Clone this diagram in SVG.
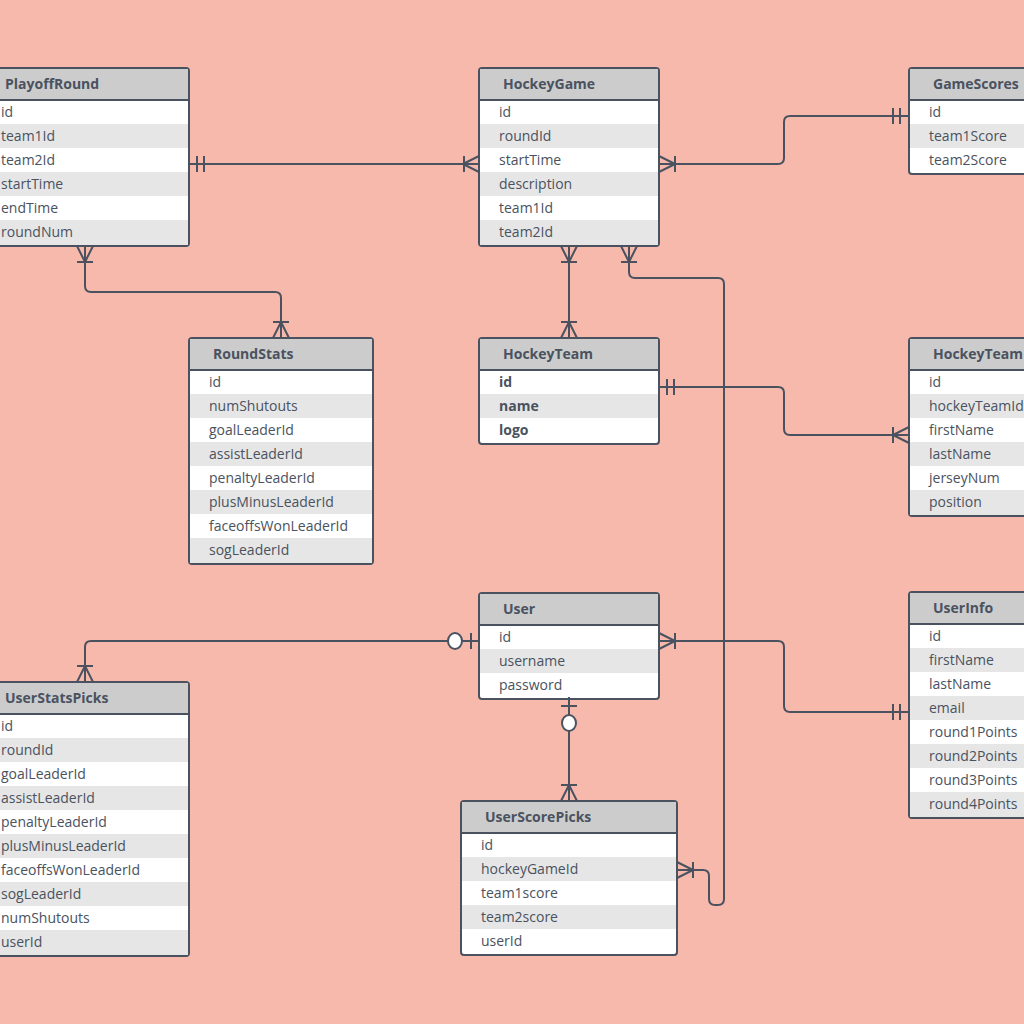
<svg xmlns="http://www.w3.org/2000/svg" width="1024" height="1024" viewBox="0 0 1024 1024">
<style>
.b{fill:#fff;stroke:#4a5260;stroke-width:2}
.h{fill:#cccccc}
.s{fill:#e6e6e6}
.ln{stroke:#4a5260;stroke-width:2}
.t{font-family:"Open Sans","DejaVu Sans",sans-serif;font-size:14px;fill:#4a5260}
.tb{font-family:"Open Sans","DejaVu Sans",sans-serif;font-size:14px;font-weight:bold;fill:#4a5260}
.c{fill:none;stroke:#4a5260;stroke-width:2}
.o{fill:#fff;stroke:#4a5260;stroke-width:2}
</style>
<rect width="1024" height="1024" fill="#f8b9ad"/>

<g id="PlayoffRound">
<rect class="b" x="-10" y="68" width="199" height="178" rx="3"/>
<rect class="h" x="-9" y="69" width="197" height="31"/>
<rect class="s" x="-9" y="124" width="197" height="24"/><rect class="s" x="-9" y="172" width="197" height="24"/><rect class="s" x="-9" y="220" width="197" height="25"/>
<line class="ln" x1="-10" y1="100" x2="189" y2="100"/>
<text class="tb" x="5" y="89">PlayoffRound</text>
<text class="t" x="1" y="117">id</text><text class="t" x="1" y="141">team1Id</text><text class="t" x="1" y="165">team2Id</text><text class="t" x="1" y="189">startTime</text><text class="t" x="1" y="213">endTime</text><text class="t" x="1" y="237">roundNum</text>
</g>

<g id="HockeyGame">
<rect class="b" x="479" y="68" width="180" height="178" rx="3"/>
<rect class="h" x="480" y="69" width="178" height="31"/>
<rect class="s" x="480" y="124" width="178" height="24"/><rect class="s" x="480" y="172" width="178" height="24"/><rect class="s" x="480" y="220" width="178" height="25"/>
<line class="ln" x1="479" y1="100" x2="659" y2="100"/>
<text class="tb" x="503" y="89">HockeyGame</text>
<text class="t" x="499" y="117">id</text><text class="t" x="499" y="141">roundId</text><text class="t" x="499" y="165">startTime</text><text class="t" x="499" y="189">description</text><text class="t" x="499" y="213">team1Id</text><text class="t" x="499" y="237">team2Id</text>
</g>

<g id="GameScores">
<rect class="b" x="909" y="68" width="130" height="106" rx="3"/>
<rect class="h" x="910" y="69" width="128" height="31"/>
<rect class="s" x="910" y="124" width="128" height="24"/>
<line class="ln" x1="909" y1="100" x2="1039" y2="100"/>
<text class="tb" x="933" y="89">GameScores</text>
<text class="t" x="929" y="117">id</text><text class="t" x="929" y="141">team1Score</text><text class="t" x="929" y="165">team2Score</text>
</g>

<g id="RoundStats">
<rect class="b" x="189" y="338" width="184" height="226" rx="3"/>
<rect class="h" x="190" y="339" width="182" height="31"/>
<rect class="s" x="190" y="394" width="182" height="24"/><rect class="s" x="190" y="442" width="182" height="24"/><rect class="s" x="190" y="490" width="182" height="24"/><rect class="s" x="190" y="538" width="182" height="25"/>
<line class="ln" x1="189" y1="370" x2="373" y2="370"/>
<text class="tb" x="213" y="359">RoundStats</text>
<text class="t" x="209" y="387">id</text><text class="t" x="209" y="411">numShutouts</text><text class="t" x="209" y="435">goalLeaderId</text><text class="t" x="209" y="459">assistLeaderId</text><text class="t" x="209" y="483">penaltyLeaderId</text><text class="t" x="209" y="507">plusMinusLeaderId</text><text class="t" x="209" y="531">faceoffsWonLeaderId</text><text class="t" x="209" y="555">sogLeaderId</text>
</g>

<g id="HockeyTeam">
<rect class="b" x="479" y="338" width="180" height="106" rx="3"/>
<rect class="h" x="480" y="339" width="178" height="31"/>
<rect class="s" x="480" y="394" width="178" height="24"/>
<line class="ln" x1="479" y1="370" x2="659" y2="370"/>
<text class="tb" x="503" y="359">HockeyTeam</text>
<text class="tb" x="499" y="387">id</text><text class="tb" x="499" y="411">name</text><text class="tb" x="499" y="435">logo</text>
</g>

<g id="HockeyTeamPlayer">
<rect class="b" x="909" y="338" width="130" height="178" rx="3"/>
<rect class="h" x="910" y="339" width="128" height="31"/>
<rect class="s" x="910" y="394" width="128" height="24"/><rect class="s" x="910" y="442" width="128" height="24"/><rect class="s" x="910" y="490" width="128" height="25"/>
<line class="ln" x1="909" y1="370" x2="1039" y2="370"/>
<text class="tb" x="933" y="359">HockeyTeam</text>
<text class="t" x="929" y="387">id</text><text class="t" x="929" y="411">hockeyTeamId</text><text class="t" x="929" y="435">firstName</text><text class="t" x="929" y="459">lastName</text><text class="t" x="929" y="483">jerseyNum</text><text class="t" x="929" y="507">position</text>
</g>

<g id="User">
<rect class="b" x="479" y="593" width="180" height="106" rx="3"/>
<rect class="h" x="480" y="594" width="178" height="31"/>
<rect class="s" x="480" y="649" width="178" height="24"/>
<line class="ln" x1="479" y1="625" x2="659" y2="625"/>
<text class="tb" x="503" y="614">User</text>
<text class="t" x="499" y="642">id</text><text class="t" x="499" y="666">username</text><text class="t" x="499" y="690">password</text>
</g>

<g id="UserInfo">
<rect class="b" x="909" y="592" width="130" height="226" rx="3"/>
<rect class="h" x="910" y="593" width="128" height="31"/>
<rect class="s" x="910" y="648" width="128" height="24"/><rect class="s" x="910" y="696" width="128" height="24"/><rect class="s" x="910" y="744" width="128" height="24"/><rect class="s" x="910" y="792" width="128" height="25"/>
<line class="ln" x1="909" y1="624" x2="1039" y2="624"/>
<text class="tb" x="933" y="613">UserInfo</text>
<text class="t" x="929" y="641">id</text><text class="t" x="929" y="665">firstName</text><text class="t" x="929" y="689">lastName</text><text class="t" x="929" y="713">email</text><text class="t" x="929" y="737">round1Points</text><text class="t" x="929" y="761">round2Points</text><text class="t" x="929" y="785">round3Points</text><text class="t" x="929" y="809">round4Points</text>
</g>

<g id="UserStatsPicks">
<rect class="b" x="-10" y="682" width="199" height="274" rx="3"/>
<rect class="h" x="-9" y="683" width="197" height="31"/>
<rect class="s" x="-9" y="738" width="197" height="24"/><rect class="s" x="-9" y="786" width="197" height="24"/><rect class="s" x="-9" y="834" width="197" height="24"/><rect class="s" x="-9" y="882" width="197" height="24"/><rect class="s" x="-9" y="930" width="197" height="25"/>
<line class="ln" x1="-10" y1="714" x2="189" y2="714"/>
<text class="tb" x="5" y="703">UserStatsPicks</text>
<text class="t" x="1" y="731">id</text><text class="t" x="1" y="755">roundId</text><text class="t" x="1" y="779">goalLeaderId</text><text class="t" x="1" y="803">assistLeaderId</text><text class="t" x="1" y="827">penaltyLeaderId</text><text class="t" x="1" y="851">plusMinusLeaderId</text><text class="t" x="1" y="875">faceoffsWonLeaderId</text><text class="t" x="1" y="899">sogLeaderId</text><text class="t" x="1" y="923">numShutouts</text><text class="t" x="1" y="947">userId</text>
</g>

<g id="UserScorePicks">
<rect class="b" x="461" y="801" width="216" height="154" rx="3"/>
<rect class="h" x="462" y="802" width="214" height="31"/>
<rect class="s" x="462" y="857" width="214" height="24"/><rect class="s" x="462" y="905" width="214" height="24"/>
<line class="ln" x1="461" y1="833" x2="677" y2="833"/>
<text class="tb" x="485" y="822">UserScorePicks</text>
<text class="t" x="481" y="850">id</text><text class="t" x="481" y="874">hockeyGameId</text><text class="t" x="481" y="898">team1score</text><text class="t" x="481" y="922">team2score</text><text class="t" x="481" y="946">userId</text>
</g>

<g id="connectors">
<!-- PlayoffRound - HockeyGame -->
<path class="c" d="M189 164H479 M197 156v16 M204 156v16 M464 156v16 M463 164L479 156 M463 164L479 172"/>
<!-- HockeyGame - GameScores -->
<path class="c" d="M659 164H778Q784 164 784 158V122Q784 116 790 116H909 M675 156v16 M675 164L659 156 M675 164L659 172 M893 108v16 M900 108v16"/>
<!-- PlayoffRound - RoundStats -->
<path class="c" d="M85 246V286Q85 292 91 292H275Q281 292 281 298V338 M77 262h16 M85 262L77 246 M85 262L93 246 M273 322h16 M281 322L273 338 M281 322L289 338"/>
<!-- HockeyGame - HockeyTeam -->
<path class="c" d="M569 246V338 M561 262h16 M569 262L561 246 M569 262L577 246 M561 322h16 M569 322L561 338 M569 322L577 338"/>
<!-- HockeyGame - UserScorePicks -->
<path class="c" d="M629 246V272Q629 278 635 278H718Q724 278 724 284V899Q724 905 718 905H715Q709 905 709 899V876Q709 870 703 870H677 M621 262h16 M629 262L621 246 M629 262L637 246 M693 862v16 M693 870L677 862 M693 870L677 878"/>
<!-- HockeyTeam - Player -->
<path class="c" d="M659 387H778Q784 387 784 393V429Q784 435 790 435H909 M667 379v16 M674 379v16 M893 427v16 M893 435L909 427 M893 435L909 443"/>
<!-- User - UserInfo -->
<path class="c" d="M659 641H778Q784 641 784 647V706Q784 712 790 712H909 M675 633v16 M675 641L659 633 M675 641L659 649 M893 704v16 M900 704v16"/>
<!-- User - UserStatsPicks -->
<path class="c" d="M479 641H91Q85 641 85 647V682 M471 633v16 M77 666h16 M85 666L77 682 M85 666L93 682"/>
<ellipse class="o" cx="455" cy="641" rx="7" ry="8"/>
<!-- User - UserScorePicks -->
<path class="c" d="M569 697V801 M561 706h16 M561 785h16 M569 785L561 801 M569 785L577 801"/>
<ellipse class="o" cx="569" cy="723" rx="7" ry="8"/>
</g>
</svg>
